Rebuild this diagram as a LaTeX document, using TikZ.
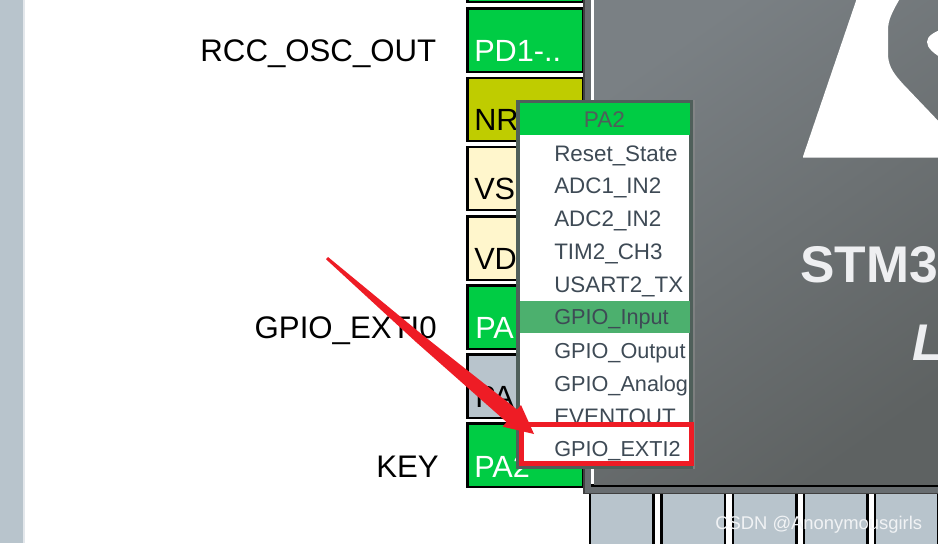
\documentclass[tikz,border=0pt]{standalone}
\usepackage{fontspec}
\setmainfont{Liberation Sans}
\definecolor{pingreen}{HTML}{00CC44}
\definecolor{pinolive}{HTML}{BFCC00}
\definecolor{pincream}{HTML}{FFF6CC}
\definecolor{pingrey}{HTML}{B8C4CC}
\definecolor{chiptl}{HTML}{7A8084}
\definecolor{chipbr}{HTML}{5E6262}
\definecolor{menuedge}{HTML}{4F5F5A}
\definecolor{menutext}{HTML}{3E4A55}
\definecolor{menusel}{HTML}{4CB06E}
\definecolor{redmark}{HTML}{EE1C25}
\definecolor{chiptext}{HTML}{EEEFF1}
\tikzset{
  pinbox/.style={draw=black,line width=1.9pt},
  pinlabel/.style={anchor=base west,inner sep=0pt,font=\fontsize{23}{23}\selectfont},
  siglabel/.style={anchor=base east,inner sep=0pt,font=\fontsize{23.4}{23}\selectfont,text=black},
  menuitem/.style={anchor=base west,inner sep=0pt,font=\fontsize{16.8}{17}\selectfont,text=menutext},
  menuitemg/.style={anchor=base west,inner sep=0pt,font=\fontsize{16.25}{17}\selectfont,text=menutext},
}
\begin{document}
\begin{tikzpicture}[x=0.75pt,y=-0.75pt]
\useasboundingbox (0,0) rectangle (938,543);
\clip (0,0) rectangle (938,543);
\fill[white] (0,0) rectangle (938,543);
% left bar
\fill[pingrey] (0,0) rectangle (23,543);
\fill[pingrey!40!white] (23,0) rectangle (24.5,543);
% signal labels
\node[siglabel] (sigrcc) at (436.5,61) {RCC\_OSC\_OUT};
\node[siglabel] (sigexti) at (437,338) {GPIO\_EXTI0};
\node[siglabel] (sigkey) at (439,477) {KEY};
% pin row, left side
\filldraw[pinbox,fill=pingreen] (467.5,-20) rectangle (583.5,2);
\filldraw[pinbox,fill=pingreen] (467.5,8.5) rectangle (583.5,72);
\filldraw[pinbox,fill=pinolive] (467.5,78) rectangle (583.5,141);
\filldraw[pinbox,fill=pincream] (467.5,147) rectangle (583.5,210);
\filldraw[pinbox,fill=pincream] (467.5,216.5) rectangle (583.5,280);
\filldraw[pinbox,fill=pingreen] (467.5,285.5) rectangle (583.5,349);
\filldraw[pinbox,fill=pingrey] (467.5,354.5) rectangle (583.5,418);
\filldraw[pinbox,fill=pingreen] (467.5,423.5) rectangle (583.5,487);
\node[pinlabel,text=white] (lpd) at (474,61) {PD1-..};
\node[pinlabel,text=black] (lnr) at (474,130) {NR};
\node[pinlabel,text=black] (lvs) at (474,199) {VS};
\node[pinlabel,text=black] (lvd) at (474,269) {VD};
\node[pinlabel,text=white] (lpa) at (475,338) {PA};
\node[pinlabel,text=black] (lpb) at (475,407) {PA};
\node[pinlabel,text=white] (lpc) at (474,477) {PA2};
% pin row, bottom
\foreach \px in {590,661.5,733,804,875,946}{
  \filldraw[pinbox,fill=pingrey] (\px,490) rectangle (\px+63.5,560);
}
% chip body
\fill[black!75] (583,-5) rectangle (960,494);
\fill[chiptl!85!black] (585,-5) rectangle (960,492.5);
\fill[white] (590.5,-5) rectangle (594,483.5);
\fill[black] (590.5,484) rectangle (960,487);
\shade[shading=axis,top color=chiptl,bottom color=chipbr,shading angle=35] (594,-5) rectangle (960,484);
% logo
\fill[white] (803,156.5) -- (858,-5) -- (902,-5) .. controls (892,12) and (888,20) .. (888,30) -- (888,56)
  .. controls (889,68) and (895,75) .. (903,84) -- (945,128) -- (945,157.5) -- (803,157.5) -- cycle;
\fill[white] (945,28) .. controls (934,32) and (927,36) .. (927,42) .. controls (927,48) and (934,54) .. (945,60) -- cycle;
% chip text
\node[anchor=base west,inner sep=0pt,text=chiptext,font=\fontsize{38.7}{39}\bfseries\selectfont] (chipname) at (800,282) {STM3};
\node[anchor=base west,inner sep=0pt,text=chiptext,font=\fontsize{38.7}{39}\bfseries\itshape\selectfont] (chipline) at (912,360) {L};
% popup menu
\fill[black!45,opacity=.6] (517,100) rectangle (694.5,469);
\filldraw[draw=menuedge,line width=2.4pt,fill=white] (518,101.5) rectangle (691,467);
\fill[pingreen] (519.5,103) rectangle (689.5,135);
\fill[menusel] (519.5,301) rectangle (689.5,333);
\node[anchor=base,inner sep=0pt,text=menuedge,font=\fontsize{17}{17}\selectfont] (mtitle) at (604.5,127) {PA2};
\node[menuitem] (m1) at (554,161) {Reset\_State};
\node[menuitem] (m2) at (554,193.5) {ADC1\_IN2};
\node[menuitem] (m3) at (554,226.5) {ADC2\_IN2};
\node[menuitem] (m4) at (554,259.5) {TIM2\_CH3};
\node[menuitem] (m5) at (554,292) {USART2\_TX};
\node[menuitemg] (m6) at (554,324.5) {GPIO\_Input};
\node[menuitemg] (m7) at (554,358) {GPIO\_Output};
\node[menuitemg] (m8) at (554,391) {GPIO\_Analog};
\node[menuitem] (m9) at (554,424) {EVENTOUT};
\node[menuitemg] (m10) at (554,456) {GPIO\_EXTI2};
% red highlight box
\draw[redmark,line width=3.75pt] (521.5,424.5) rectangle (691,463.5);
% red arrow
\fill[redmark] (326,259.2) -- (328,257) -- (422,334.5) -- (517,409.5) -- (521,405) -- (534,434) -- (502.7,426.7) -- (506.5,422) -- (416,342) -- cycle;
% watermark
\node[anchor=base west,inner sep=0pt,text=white!80!pingrey,font=\fontsize{13.8}{15}\selectfont] (wmark) at (715,529) {CSDN @Anonymousgirls};
\end{tikzpicture}
\end{document}
